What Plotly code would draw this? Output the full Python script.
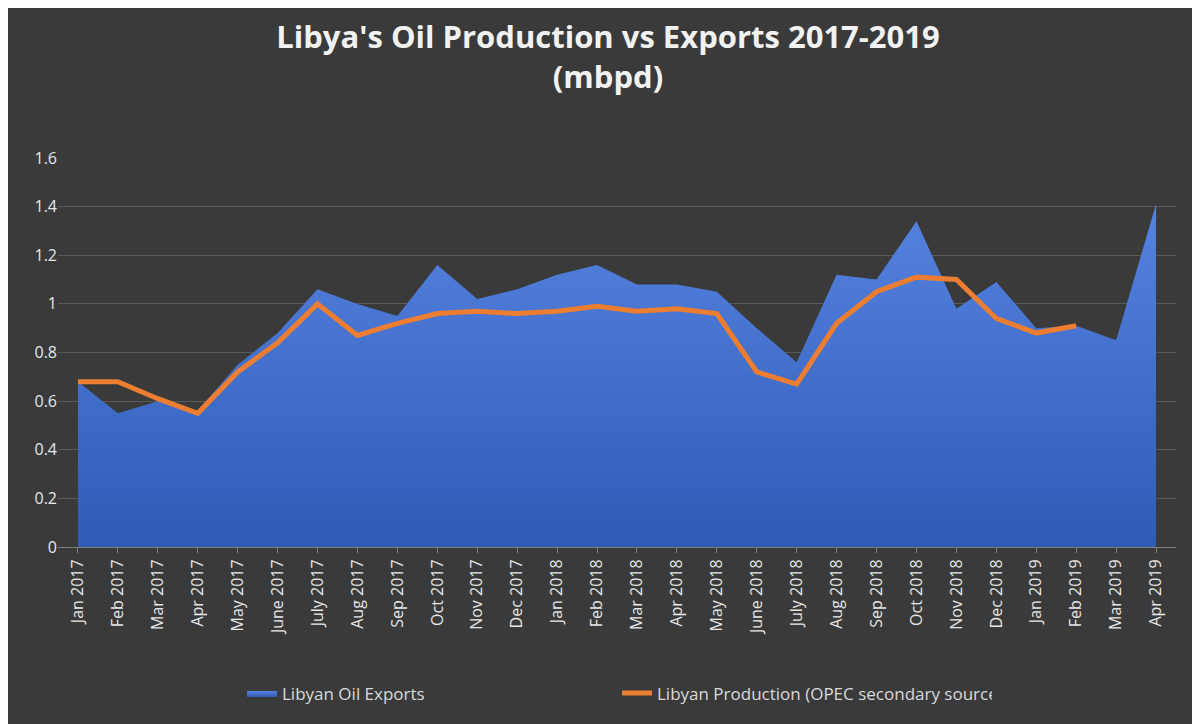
import plotly.graph_objects as go

months = ["Jan 2017", "Feb 2017", "Mar 2017", "Apr 2017", "May 2017", "June 2017", "July 2017",
          "Aug 2017", "Sep 2017", "Oct 2017", "Nov 2017", "Dec 2017", "Jan 2018", "Feb 2018",
          "Mar 2018", "Apr 2018", "May 2018", "June 2018", "July 2018", "Aug 2018", "Sep 2018",
          "Oct 2018", "Nov 2018", "Dec 2018", "Jan 2019", "Feb 2019", "Mar 2019", "Apr 2019"]

exports = [0.68, 0.55, 0.60, 0.56, 0.75, 0.88, 1.06, 1.00, 0.95, 1.16, 1.02, 1.06, 1.12, 1.16,
           1.08, 1.08, 1.05, 0.90, 0.76, 1.12, 1.10, 1.34, 0.98, 1.09, 0.90, 0.91, 0.85, 1.41]

production = [0.68, 0.68, 0.61, 0.55, 0.72, 0.84, 1.00, 0.87, 0.92, 0.96, 0.97, 0.96, 0.97, 0.99,
              0.97, 0.98, 0.96, 0.72, 0.67, 0.92, 1.05, 1.11, 1.10, 0.94, 0.88, 0.91, None, None]

fig = go.Figure()

fig.add_trace(go.Scatter(
    x=months, y=exports, name="Libyan Oil Exports",
    mode="lines", line=dict(width=0, color="#4a78d8"),
    fill="tozeroy",
    fillgradient=dict(type="vertical", colorscale=[[0, "#2f5bb5"], [1, "#5583e0"]]),
))

fig.add_trace(go.Scatter(
    x=months, y=production, name="Libyan Production (OPEC secondary sources)",
    mode="lines", line=dict(width=5, color="#ed7d31"),
))

fig.update_layout(
    width=1200, height=724,
    paper_bgcolor="#3a3a3a", plot_bgcolor="#3a3a3a",
    font=dict(family="Open Sans", color="#d9d9d9", size=15),
    title=dict(text="<b>Libya's Oil Production vs Exports 2017-2019<br>(mbpd)</b>",
               x=0.5, y=0.945, xanchor="center",
               font=dict(size=31, color="#f2f2f2")),
    margin=dict(l=50, r=32, t=150, b=185),
    showlegend=True,
    legend=dict(orientation="h", x=0.5, xanchor="center", y=-0.33, yanchor="top",
                entrywidth=330, font=dict(size=17, color="#d9d9d9")),
    xaxis=dict(tickangle=-90, showgrid=False, tickfont=dict(size=16, color="#e6e6e6"),
               range=[-0.5, 27.5],
               showline=True, linecolor="#7f7f7f", ticks="outside", tickcolor="#7f7f7f"),
    yaxis=dict(range=[0, 1.6], dtick=0.2, gridcolor="#595959", zeroline=False,
               tickfont=dict(size=16, color="#e6e6e6"), tickformat="~g"),
)

fig.write_html("out.html")
